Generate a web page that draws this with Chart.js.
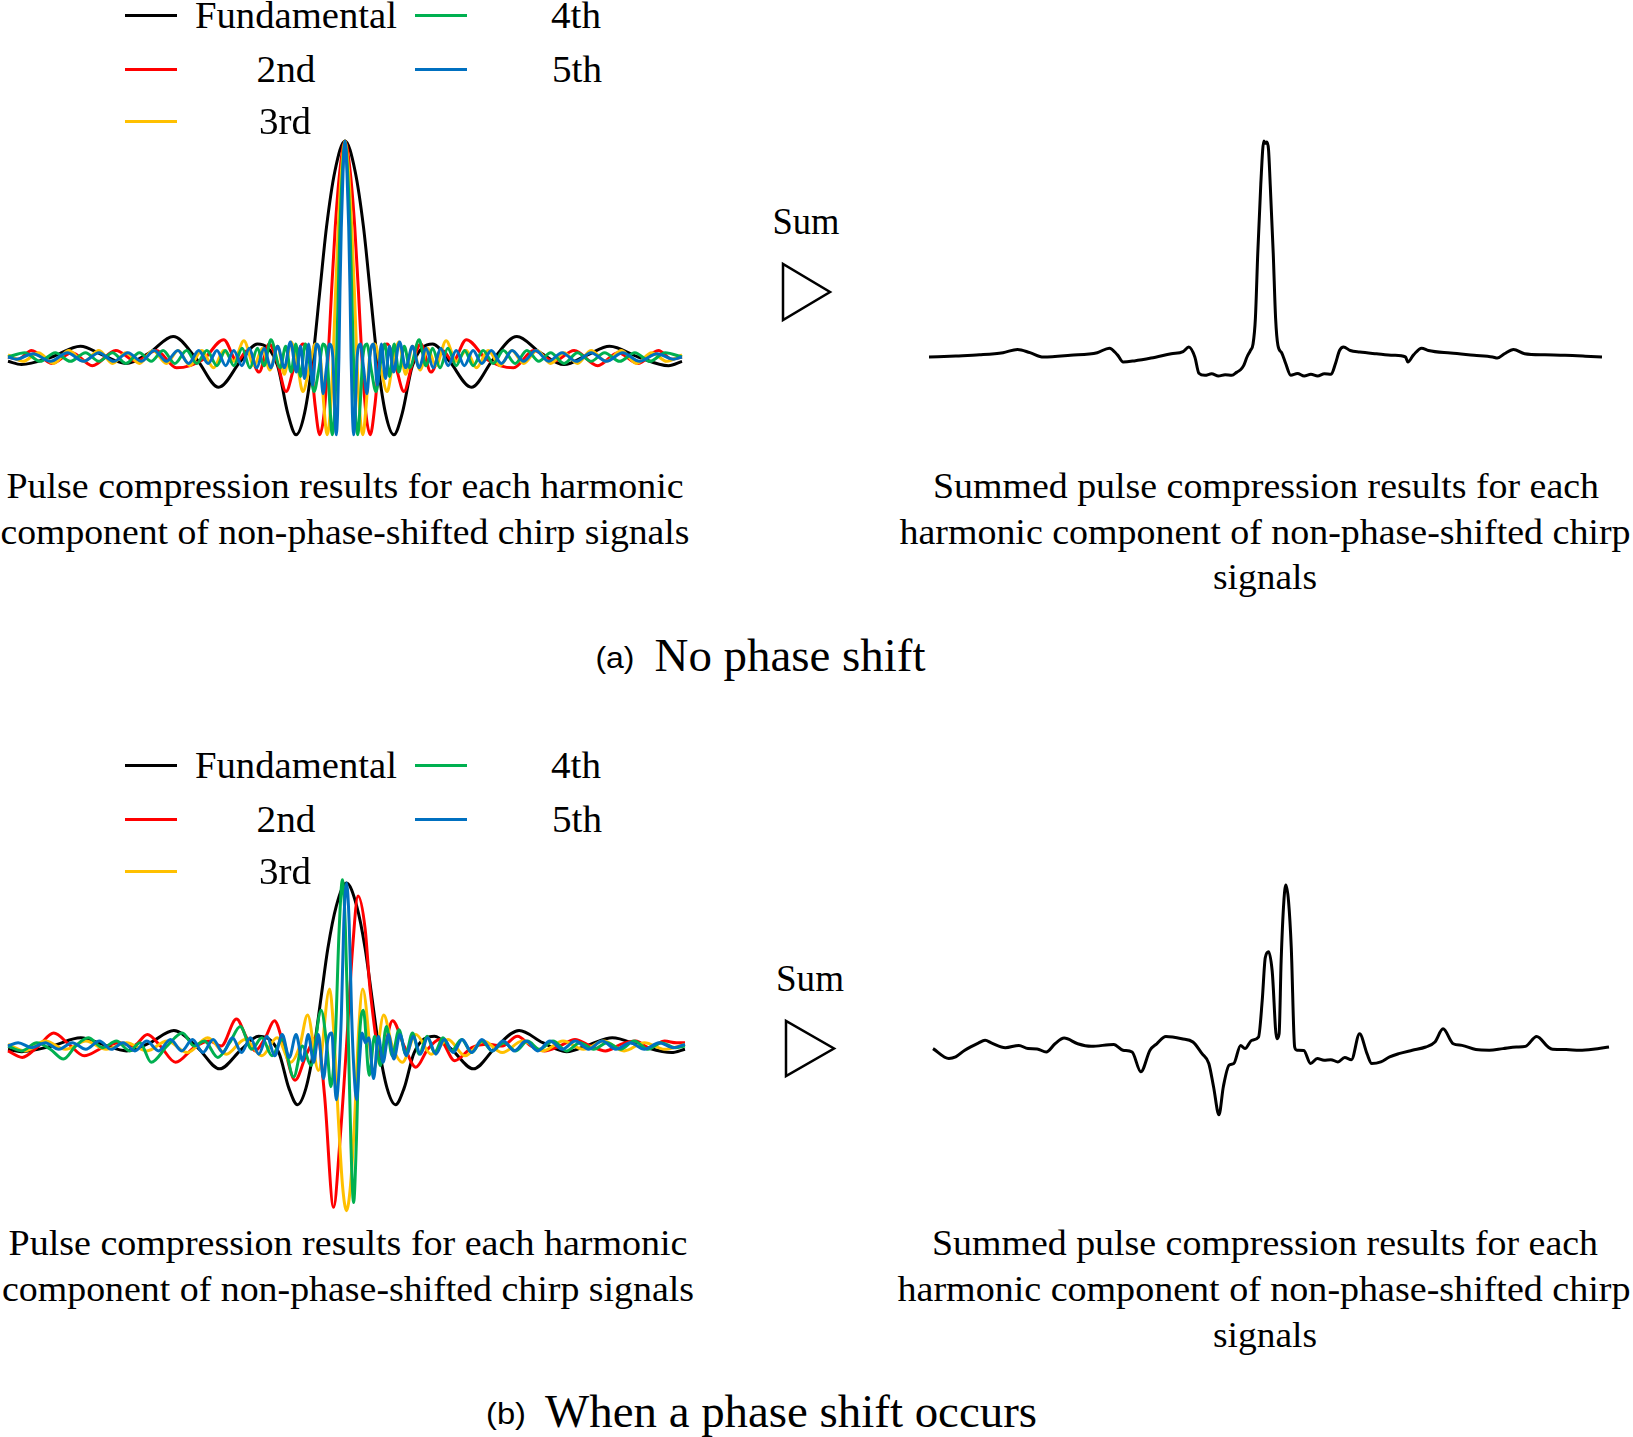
<!DOCTYPE html>
<html>
<head>
<meta charset="utf-8">
<script src="https://cdn.jsdelivr.net/npm/chart.js@4.4.0/dist/chart.umd.min.js"></script>
<style>
  body { margin: 0; width: 1633px; height: 1437px; background: #fff; overflow: hidden; position: relative; }
  canvas { position: absolute; }
  .txt { position: absolute; white-space: nowrap; line-height: 1; color: #000; transform-origin: 50% 50%; }
  .key { position: absolute; height: 3px; }
  svg { position: absolute; left: 0; top: 0; }
</style>
</head>
<body>
<svg width="1633" height="1437">
  <polygon points="783,264 783,320 830,292" fill="none" stroke="#000" stroke-width="2.5"/>
  <polygon points="786,1021 786,1076 834,1048.5" fill="none" stroke="#000" stroke-width="2.5"/>
</svg>
<script>
// x: time (arbitrary units, -100..100), y: normalised amplitude (main peak = 1)

// (a) no phase shift - pulse compression of each harmonic
var fundamental = [[-100,-0.02],[-96,-0.035],[-87,0],[-78.5,0.05],[-72,0.01],[-65,-0.03],[-58,0.02],[-51,0.095],[-44,-0.01],[-37.5,-0.14],[-31,-0.02],[-26,0.06],[-20,-0.04],[-17,-0.26],[-14.5,-0.36],[-12,-0.26],[-9.5,0],[-7.5,0.3],[-5.5,0.6],[-3,0.86],
  [0,1],[3,0.86],[5.5,0.6],[7.5,0.3],[9.5,0],[12,-0.26],[14.5,-0.36],[17,-0.26],[20,-0.04],[26,0.06],[31,-0.02],[37.5,-0.14],[44,-0.01],[51,0.095],[58,0.02],[65,-0.035],[72,0.01],[78.5,0.05],[87,0],[96,-0.04],[100,-0.02]];

var second_a = [[-100,0],[-97,-0.01],[-93,0.03],[-87,-0.03],[-81,0.02],[-75,-0.04],[-68,0.03],[-62,-0.02],[-56,0.03],[-50,-0.05],[-42,-0.01],[-36,0.08],[-32,-0.02],[-29,0.03],[-25.5,-0.07],[-22.5,0.06],[-20,-0.03],[-17.5,-0.16],[-15,-0.04],[-12.5,0.06],[-10.3,0],[-8.9,-0.22],[-7.5,-0.36],[-6.2,-0.26],[-5,0],[-4,0.3],[-2.9,0.6],[-1.6,0.85],
  [0,1],[1.6,0.85],[2.9,0.6],[4,0.3],[5,0],[6.2,-0.26],[7.5,-0.36],[8.9,-0.22],[10.3,0],[12.5,0.06],[15,-0.04],[17.5,-0.16],[20,-0.03],[22.5,0.06],[25.5,-0.07],[29,0.03],[32,-0.02],[36,0.08],[42,-0.01],[50,-0.05],[56,0.03],[62,-0.02],[68,0.03],[75,-0.04],[81,0.02],[87,-0.03],[93,0.03],[97,-0.01],[100,0]];

var third_a = [[-100,0.01],[-95.5,-0.02],[-91,0.02],[-86.5,-0.03],[-82,0.03],[-77.5,-0.02],[-73,0.03],[-69,-0.03],[-65,0.02],[-61,-0.03],[-57,0.03],[-53,-0.03],[-49.5,0.03],[-46,-0.04],[-42.5,0.03],[-39,-0.05],[-36,0.03],[-33,-0.02],[-30,0.075],[-27,-0.04],[-24.5,0.04],[-22.3,-0.06],[-20,0.05],[-18,-0.08],[-16,0.07],[-14.2,-0.03],[-12.5,-0.16],[-10.6,-0.05],[-8.8,0.06],[-7.3,0],[-6.3,-0.22],[-5.3,-0.36],[-4.4,-0.26],[-3.5,0],[-2.8,0.3],[-2,0.6],[-1.1,0.85],
  [0,1],[1.1,0.85],[2,0.6],[2.8,0.3],[3.5,0],[4.4,-0.26],[5.3,-0.36],[6.3,-0.22],[7.3,0],[8.8,0.06],[10.6,-0.05],[12.5,-0.16],[14.2,-0.03],[16,0.07],[18,-0.08],[20,0.05],[22.3,-0.06],[24.5,0.04],[27,-0.04],[30,0.075],[33,-0.02],[36,0.03],[39,-0.05],[42.5,0.03],[46,-0.04],[49.5,0.03],[53,-0.03],[57,0.03],[61,-0.03],[65,0.02],[69,-0.03],[73,0.03],[77.5,-0.02],[82,0.03],[86.5,-0.03],[91,0.02],[95.5,-0.02],[100,0.01]];

var fourth_a = [[-100,0],[-95,0.02],[-90.5,-0.02],[-86,0.02],[-81.5,-0.02],[-77,0.02],[-73,-0.02],[-69,0.02],[-65,-0.03],[-61,0.02],[-57.5,-0.02],[-54,0.03],[-50.5,-0.03],[-47,0.03],[-44,-0.03],[-41,0.03],[-38,-0.04],[-35.5,0.03],[-33,-0.04],[-30.5,0.04],[-28.2,-0.05],[-26,0.04],[-24,-0.04],[-22,0.08],[-19.2,-0.05],[-17.6,0.05],[-16,-0.07],[-14.6,0.06],[-13.2,-0.09],[-11.8,0.06],[-10.5,-0.03],[-9.2,-0.16],[-7.8,-0.06],[-6.5,0.06],[-5.3,0],[-4.5,-0.22],[-3.8,-0.36],[-3.1,-0.26],[-2.5,0],[-2,0.3],[-1.5,0.6],[-0.8,0.85],
  [0,1],[0.8,0.85],[1.5,0.6],[2,0.3],[2.5,0],[3.1,-0.26],[3.8,-0.36],[4.5,-0.22],[5.3,0],[6.5,0.06],[7.8,-0.06],[9.2,-0.16],[10.5,-0.03],[11.8,0.06],[13.2,-0.09],[14.6,0.06],[16,-0.07],[17.6,0.05],[19.2,-0.05],[22,0.08],[24,-0.04],[26,0.04],[28.2,-0.05],[30.5,0.04],[33,-0.04],[35.5,0.03],[38,-0.04],[41,0.03],[44,-0.03],[47,0.03],[50.5,-0.03],[54,0.03],[57.5,-0.02],[61,0.02],[65,-0.03],[69,0.02],[73,-0.02],[77,0.02],[81.5,-0.02],[86,0.02],[90.5,-0.02],[95,0.02],[100,0]];

var fifth_a = [[-100,0],[-97.4,-0.01],[-92.6,0.015],[-87.4,-0.02],[-82.4,0.02],[-77.6,-0.02],[-73,0.02],[-68.6,-0.02],[-64.4,0.02],[-60.4,-0.02],[-56.6,0.03],[-53,-0.02],[-49.6,0.03],[-46.4,-0.03],[-43.4,0.03],[-40.6,-0.03],[-38,0.03],[-35.4,-0.04],[-33,0.03],[-30.6,-0.04],[-28.4,0.04],[-26.2,-0.05],[-24,0.04],[-22,-0.05],[-20,0.05],[-18,-0.05],[-16.2,0.07],[-14.4,-0.07],[-13.2,0.05],[-12,-0.1],[-10.8,0.06],[-9.6,-0.13],[-8.5,0.06],[-7.5,0.02],[-6.5,-0.17],[-5.5,-0.05],[-4.6,0.06],[-3.6,0],[-3.1,-0.22],[-2.6,-0.36],[-2.2,-0.26],[-1.8,0],[-1.5,0.3],[-1.1,0.6],[-0.6,0.85],
  [0,1],[0.6,0.85],[1.1,0.6],[1.5,0.3],[1.8,0],[2.2,-0.26],[2.6,-0.36],[3.1,-0.22],[3.6,0],[4.6,0.06],[5.5,-0.05],[6.5,-0.17],[7.5,0.02],[8.5,0.06],[9.6,-0.13],[10.8,0.06],[12,-0.1],[13.2,0.05],[14.4,-0.07],[16.2,0.07],[18,-0.05],[20,0.05],[22,-0.05],[24,0.04],[26.2,-0.05],[28.4,0.04],[30.6,-0.04],[33,0.03],[35.4,-0.04],[38,0.03],[40.6,-0.03],[43.4,0.03],[46.4,-0.03],[49.6,0.03],[53,-0.02],[56.6,0.03],[60.4,-0.02],[64.4,0.02],[68.6,-0.02],[73,0.02],[77.6,-0.02],[82.4,0.02],[87.4,-0.02],[92.6,0.015],[97.4,-0.01],[100,0]];

var sum_a = [[-100,0],[-92,0.005],[-85,0.01],[-78,0.02],[-73.7,0.035],[-70,0.02],[-66,0],[-58,0.008],[-50,0.02],[-46.4,0.041],[-44,0.01],[-42.3,-0.023],[-39,-0.018],[-34,-0.005],[-28,0.015],[-24.5,0.025],[-22.8,0.046],[-21,0],[-19.8,-0.075],[-18,-0.085],[-16,-0.078],[-14,-0.088],[-12,-0.082],[-10,-0.085],[-8.5,-0.07],[-7.5,-0.06],[-6.5,-0.04],[-5.5,0],[-4.5,0.03],[-3.7,0.06],[-3,0.18],[-2.3,0.48],[-1.4,0.8],[-0.5,1],[0,0.99],[0.4,0.995],[0.9,0.96],[1.4,0.8],[2.3,0.48],[3,0.18],[3.7,0.053],[4.8,0.02],[6,-0.03],[7.5,-0.084],[9.5,-0.076],[11.5,-0.088],[13.5,-0.08],[15.5,-0.088],[17.5,-0.078],[19.5,-0.08],[20.8,-0.03],[22,0.03],[23.2,0.046],[25.2,0.03],[28,0.023],[33,0.015],[38,0.008],[41.6,0],[42.3,-0.023],[44,0.01],[46.4,0.041],[48.4,0.03],[55,0.018],[62,0.008],[67.5,0],[68.9,-0.005],[71,0.015],[73.7,0.035],[77,0.015],[83,0.01],[89,0.008],[95,0.004],[100,0]];

// (b) phase shift - fundamental unchanged, harmonics shifted
var second_b = [[-100,-0.03],[-95.8,-0.07],[-91,0],[-86.5,0.08],[-82,0.01],[-77.5,-0.06],[-72,-0.01],[-67,0.02],[-63,0],[-58.8,0.07],[-55,0],[-50.5,-0.1],[-45,-0.01],[-40.5,0.03],[-37,0],[-32.5,0.165],[-29.5,0.05],[-27,-0.03],[-24,0.05],[-21.3,0.155],[-18.5,0],[-15.2,-0.21],[-11.8,-0.05],[-8.6,0.06],[-6.5,-0.3],[-3.8,-0.99],[-2,-0.6],[0,0],[1.8,0.6],[3.4,0.92],[5.5,0.72],[7,0.34],[10.3,-0.07],[13.6,0.155],[17,0],[20.5,-0.13],[24,-0.02],[27.5,0.04],[32,-0.09],[37,-0.01],[42,0.01],[46,0],[50.5,0.06],[54.5,0],[58.5,-0.03],[63,0],[67.5,0.04],[72,0],[76.5,-0.03],[81,0.01],[85.5,0.03],[89.5,-0.01],[94,0.03],[97.5,0.02],[100,0.02]];

var third_b = [[-100,0.01],[-95,-0.03],[-89,0.03],[-83,-0.02],[-77,0.03],[-71,-0.02],[-65,0.02],[-59,-0.03],[-53,0.03],[-47,-0.04],[-41,0.05],[-35.5,-0.05],[-30,0.04],[-25,-0.06],[-20.5,0.05],[-16.5,-0.1],[-13.8,0],[-11.5,0.19],[-8.3,-0.15],[-5,0.35],[-3.8,0.1],[-2.4,-0.45],[-1.2,-0.85],[0,-1.01],[1.2,-0.85],[2.4,-0.45],[3.6,0.1],[4.8,0.35],[8,-0.15],[11,0.19],[13.5,0],[16.5,-0.1],[20.5,0.07],[25,-0.05],[30,0.04],[35,-0.06],[40.5,0.03],[46,-0.04],[52,0.03],[58,-0.03],[64,0.03],[70,-0.02],[76,0.03],[82,-0.03],[88,0.02],[94,-0.02],[100,0.01]];

var fourth_b = [[-100,0],[-96,-0.03],[-91.5,0.02],[-87.5,-0.02],[-83.6,-0.08],[-80,0],[-76.3,0.05],[-72,-0.01],[-68,0.03],[-64,-0.03],[-61,0.02],[-57.7,-0.1],[-53,0],[-48.5,0.08],[-45,0],[-42,0.03],[-38,-0.07],[-34.5,0.02],[-31.4,0.12],[-28,-0.02],[-25,0.05],[-22,-0.06],[-19,0.04],[-15.6,-0.19],[-13,0],[-10.5,-0.12],[-7.5,0.22],[-5.8,0],[-4.6,-0.25],[-3.3,0.05],[-2.2,0.7],[-1.2,1.02],[-0.3,0.7],[0.6,0],[1.3,-0.6],[2.1,-0.96],[2.9,-0.6],[3.7,0],[5,0.22],[6.7,-0.18],[8.3,0.06],[10,-0.12],[11.8,0.12],[13.5,-0.06],[15.5,0.1],[17.5,-0.05],[19.5,0.08],[21.5,-0.05],[23.8,0.06],[26,-0.04],[28.5,0.05],[31,-0.03],[34,0.04],[37,-0.04],[40,0.03],[43,-0.03],[46.5,0.02],[50,-0.03],[53.5,0.03],[57,-0.02],[61,0.03],[65,-0.03],[69,0.02],[73,-0.02],[77,0.02],[81,-0.02],[85,0.03],[89,-0.02],[93,0.02],[97,-0.01],[100,0]];

var fifth_b = [[-100,0],[-97,0.02],[-93,-0.01],[-89,0.02],[-85,-0.02],[-81,0.02],[-77,-0.02],[-73,0.03],[-69.5,-0.02],[-66,0.02],[-62.5,-0.03],[-59,0.03],[-55.5,-0.03],[-52,0.04],[-48.7,-0.03],[-45.5,0.04],[-42.4,-0.04],[-39.4,0.04],[-36.5,-0.04],[-33.7,0.05],[-31,-0.04],[-28.4,0.05],[-25.9,-0.05],[-23.5,0.06],[-21.2,-0.06],[-19,0.07],[-16.9,-0.07],[-14.9,0.07],[-13,-0.09],[-11.3,0.07],[-9.7,-0.1],[-8.3,0.07],[-6.8,-0.2],[-5.5,0.04],[-4.3,0.08],[-3.8,-0.1],[-3,-0.33],[-2.2,-0.15],[-1.5,0.2],[-0.8,0.75],[0,1],[0.8,0.75],[1.5,0.2],[2.2,-0.15],[3,-0.33],[3.8,-0.1],[4.6,0.08],[5.6,0.02],[6.6,0.05],[8,-0.2],[9.4,0.06],[10.8,-0.1],[12.4,0.07],[14,-0.08],[15.8,0.07],[17.7,-0.06],[19.7,0.06],[21.8,-0.05],[24,0.05],[26.4,-0.05],[28.9,0.04],[31.5,-0.04],[34.2,0.04],[37,-0.04],[40,0.04],[43.1,-0.03],[46.3,0.03],[49.6,-0.03],[53,0.03],[56.5,-0.03],[60.1,0.03],[63.8,-0.02],[67.6,0.03],[71.5,-0.02],[75.5,0.03],[79.6,-0.02],[83.8,0.02],[88,-0.02],[92.3,0.02],[96.6,-0.01],[100,0.01]];

var sum_b = [[-100,-0.01],[-95.3,-0.071],[-93.3,-0.061],[-90.6,-0.02],[-86.6,0.024],[-84.6,0.041],[-82.6,0.024],[-78.6,-0.004],[-74.6,0.01],[-71.9,-0.01],[-69.2,-0.012],[-66.5,-0.031],[-63.9,0.02],[-61.2,0.055],[-57.2,0.02],[-53.2,0.004],[-46.5,0.016],[-43.8,-0.02],[-41.1,-0.031],[-38.5,-0.153],[-35.8,-0.02],[-33.8,0.02],[-31.1,0.065],[-26.4,0.051],[-23.1,0.031],[-20.4,-0.041],[-18.4,-0.102],[-17,-0.245],[-15.4,-0.418],[-14.1,-0.245],[-12.4,-0.112],[-11,-0.102],[-9,0.01],[-7.7,-0.01],[-5.7,0.041],[-3.7,0.061],[-2.6,0.286],[-1.7,0.551],[-0.7,0.588],[0.35,0.469],[1.7,0.051],[2.4,0.082],[3,0.531],[3.8,0.898],[4.4,1],[5.2,0.898],[6,0.612],[7,0],[7.7,-0.02],[9.7,-0.022],[11.7,-0.102],[13.7,-0.071],[15.7,-0.082],[17.7,-0.078],[19.8,-0.092],[21.8,-0.065],[23.8,-0.078],[26.2,0.082],[28.4,-0.041],[29.8,-0.102],[32.5,-0.092],[35.1,-0.061],[37.8,-0.041],[41.8,-0.02],[45.8,0],[48.5,0.031],[50.9,0.112],[53.9,0.02],[56.5,0.01],[60.6,-0.016],[64.6,-0.02],[68.6,-0.01],[72.6,0],[75.3,0.004],[78.6,0.065],[82,0],[83.3,-0.014],[87.3,-0.016],[91.3,-0.02],[95.3,-0.014],[100,0]];

var harmonicNames = ['Fundamental', '2nd', '3rd', '4th', '5th'];
var harmonicColors = ['#000000', '#ff0000', '#ffc000', '#00b050', '#0070c0'];

function addText(txt, cx, cy, size, family, targetW) {
    var el = document.createElement('div');
    el.className = 'txt';
    el.textContent = txt;
    el.style.fontSize = size + 'px';
    el.style.fontFamily = family;
    el.style.left = cx + 'px';
    el.style.top = cy + 'px';
    document.body.appendChild(el);
    var w = el.getBoundingClientRect().width;
    var k = targetW ? targetW / w : 1;
    el.style.transform = 'translate(-50%,-50%) scaleX(' + k + ')';
}

function addKey(color, x, y) {
    var el = document.createElement('div');
    el.className = 'key';
    el.style.left = x + 'px';
    el.style.top = (y - 1.5) + 'px';
    el.style.width = '52px';
    el.style.background = color;
    document.body.appendChild(el);
}

var SERIF = '"Liberation Serif", "Times New Roman", serif';
var SANS = '"Liberation Sans", Arial, sans-serif';

function legend(y0) {
    var rows = [y0, y0 + 54, y0 + 106];
    addKey(harmonicColors[0], 125, rows[0]); addText(harmonicNames[0], 296, rows[0], 38, SERIF, 202);
    addKey(harmonicColors[1], 125, rows[1]); addText(harmonicNames[1], 286, rows[1], 38, SERIF, 59);
    addKey(harmonicColors[2], 125, rows[2]); addText(harmonicNames[2], 285, rows[2], 38, SERIF, 52);
    addKey(harmonicColors[3], 415, rows[0]); addText(harmonicNames[3], 576, rows[0], 38, SERIF, 50);
    addKey(harmonicColors[4], 415, rows[1]); addText(harmonicNames[4], 577, rows[1], 38, SERIF, 50);
}

// rect = canvas placement, box = pixel positions of x=-100, x=100, y=1, y=0
function makeChart(rect, box, series) {
    var c = document.createElement('canvas');
    c.width = rect.w; c.height = rect.h;
    c.style.left = rect.left + 'px'; c.style.top = rect.top + 'px';
    document.body.appendChild(c);
    var ppx = (box.x1 - box.x0) / 200;
    var ppy = box.yBase - box.yTop;
    var xmin = -100 - (box.x0 - rect.left) / ppx;
    var xmax = 100 + (rect.left + rect.w - box.x1) / ppx;
    var ymax = 1 + (box.yTop - rect.top) / ppy;
    var ymin = -(rect.top + rect.h - box.yBase) / ppy;
    new Chart(c.getContext('2d'), {
        type: 'line',
        data: {
            datasets: series.map(function (s, i) {
                return {
                    label: s.label,
                    data: s.data.map(function (p) { return { x: p[0], y: p[1] }; }),
                    borderColor: s.color,
                    order: series.length - i
                };
            })
        },
        options: {
            responsive: false,
            animation: false,
            layout: { padding: 0 },
            plugins: { legend: { display: false }, tooltip: { enabled: false } },
            scales: {
                x: { type: 'linear', display: false, min: xmin, max: xmax },
                y: { display: false, min: ymin, max: ymax }
            },
            elements: {
                point: { radius: 0 },
                line: { borderWidth: 3, cubicInterpolationMode: 'monotone', fill: false }
            }
        }
    });
}

function harmonics(list) {
    return list.map(function (d, i) { return { label: harmonicNames[i], data: d, color: harmonicColors[i] }; });
}

makeChart({ left: 0, top: 125, w: 695, h: 320 }, { x0: 8, x1: 682, yTop: 141, yBase: 357 },
    harmonics([fundamental, second_a, third_a, fourth_a, fifth_a]));
makeChart({ left: 915, top: 125, w: 700, h: 270 }, { x0: 929, x1: 1602, yTop: 141, yBase: 357 },
    [{ label: 'Sum', data: sum_a, color: '#000000' }]);
makeChart({ left: 0, top: 865, w: 700, h: 355 }, { x0: 8, x1: 685, yTop: 883, yBase: 1046 },
    harmonics([fundamental, second_b, third_b, fourth_b, fifth_b]));
makeChart({ left: 915, top: 865, w: 710, h: 265 }, { x0: 933, x1: 1609, yTop: 885, yBase: 1047 },
    [{ label: 'Sum', data: sum_b, color: '#000000' }]);

legend(15);
legend(765);

addText('Sum', 806, 221, 37, SERIF, 67);
addText('Sum', 810, 978, 37, SERIF, 68);

addText('Pulse compression results for each harmonic', 345, 486, 35, SERIF, 677);
addText('component of non-phase-shifted chirp signals', 345, 532, 35, SERIF, 689);
addText('Summed pulse compression results for each', 1266, 486, 35, SERIF, 666);
addText('harmonic component of non-phase-shifted chirp', 1265, 532, 35, SERIF, 731);
addText('signals', 1265, 577, 35, SERIF, 104);

addText('Pulse compression results for each harmonic', 348, 1243, 35, SERIF, 679);
addText('component of non-phase-shifted chirp signals', 348, 1289, 35, SERIF, 692);
addText('Summed pulse compression results for each', 1265, 1243, 35, SERIF, 666);
addText('harmonic component of non-phase-shifted chirp', 1264, 1289, 35, SERIF, 733);
addText('signals', 1265, 1335, 35, SERIF, 104);

addText('(a)', 615, 658, 30, SANS, 39);
addText('No phase shift', 790, 656, 46, SERIF, 271);
addText('(b)', 506, 1414, 30, SANS, 40);
addText('When a phase shift occurs', 791, 1412, 46, SERIF, 492);
</script>
</body>
</html>
